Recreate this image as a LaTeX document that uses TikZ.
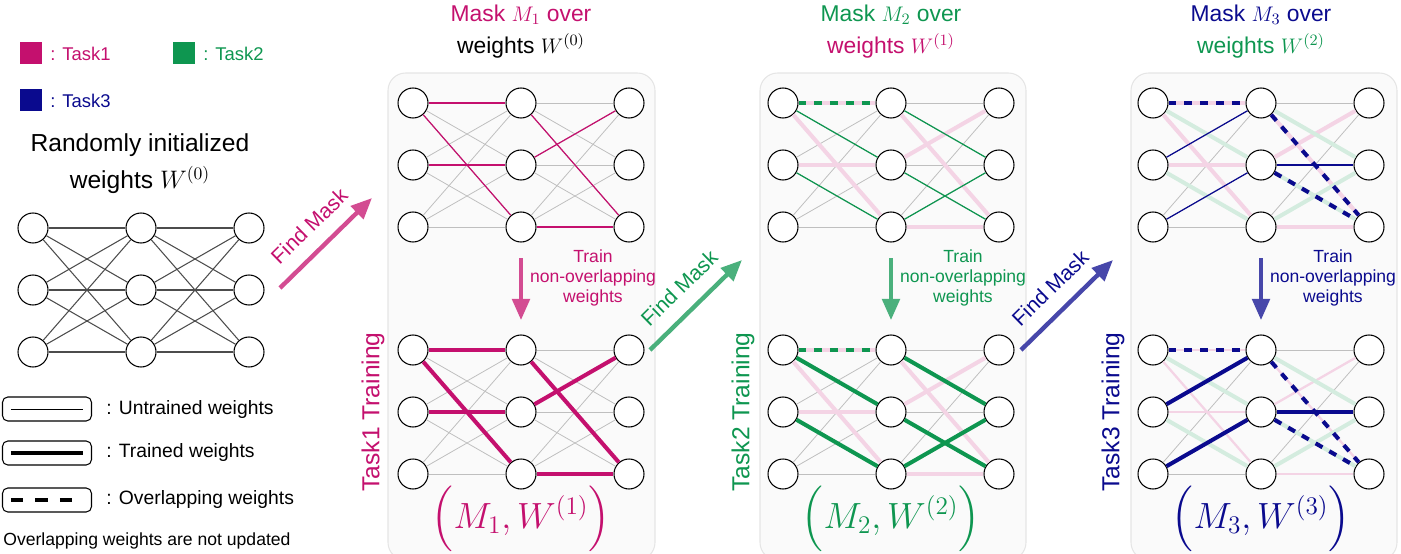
\documentclass[tikz,border=0pt]{standalone}
\usepackage{fontspec}
\setmainfont{Liberation Sans}
\usepackage{amsmath}
\usetikzlibrary{arrows.meta}
\definecolor{taskA}{HTML}{C4106E}
\definecolor{taskB}{HTML}{0E9650}
\definecolor{taskC}{HTML}{0A0A8E}
\def\colsep{108}
\def\rowsep{62}

\begin{document}
\begin{tikzpicture}[x=0.02cm, y=-0.02cm, every node/.append style={inner sep=0pt}]
    \tikzstyle{neuron}=[circle, draw=black, fill=white, minimum size=0.6cm, line width=0.6pt]
    \tikzstyle{plain}=[draw=black!25, line width=0.45pt]
    \tikzstyle{init}=[draw=black!70, line width=0.6pt]
    \tikzstyle{thin}=[line width=0.7pt]
    \tikzstyle{thick}=[line width=2.3pt]
    \tikzstyle{faded}=[line width=2.3pt]
    \tikzstyle{overlap}=[line width=2.3pt, dash pattern=on 4.5pt off 4.5pt]
    \tikzstyle{panel}=[rounded corners=10pt, fill=black!2, draw=black!10, line width=0.6pt]
    \tikzstyle{find}=[-{Triangle[length=12pt,width=10pt]}, line width=2.5pt]
    \tikzstyle{legbox}=[draw=black, rounded corners=3pt, line width=0.6pt, minimum width=1.78cm, minimum height=0.48cm]
    \useasboundingbox (0,0) rectangle (1401,554);

    % Panels
    \draw[panel] (388,73) rectangle (655,560);
    \draw[panel] (760,73) rectangle (1026,560);
    \draw[panel] (1131,73) rectangle (1397,560);

    % Neurons of all networks
    \foreach \n/\x/\y in {L/33/228, At/413/103, Ab/413/350, Bt/783/103, Bb/783/350, Ct/1153/103, Cb/1153/350}
        \foreach \c in {0,1,2}
            \foreach \r in {0,1,2}
                \node[neuron] (\n-\c-\r) at ({\x+\colsep*\c},{\y+\rowsep*\r}) {};

    % Untrained connections
    \foreach \n in {At,Ab,Bt,Bb,Ct,Cb}
        \foreach \c/\d in {0/1,1/2}
            \foreach \i in {0,1,2}
                \foreach \j in {0,1,2}
                    \draw[plain] (\n-\c-\i) -- (\n-\d-\j);
    \foreach \c/\d in {0/1,1/2}
        \foreach \i in {0,1,2}
            \foreach \j in {0,1,2}
                \draw[init] (L-\c-\i) -- (L-\d-\j);

    % Task1 mask
    \foreach \a/\b in {0-0/1-0, 0-0/1-2, 0-1/1-1, 1-0/2-2, 1-1/2-0, 1-2/2-2} {
        \draw[thin, taskA] (At-\a) -- (At-\b);
        \draw[thick, taskA] (Ab-\a) -- (Ab-\b);
        \draw[faded, taskA!18] (Bt-\a) -- (Bt-\b);
        \draw[faded, taskA!18] (Bb-\a) -- (Bb-\b);
        \draw[faded, taskA!18] (Ct-\a) -- (Ct-\b);
        \draw[faded, taskA!18, line width=1.3pt] (Cb-\a) -- (Cb-\b);
    }
    % Task2 mask
    \foreach \a/\b in {0-0/1-1, 0-1/1-2, 1-0/2-1, 1-1/2-2, 1-2/2-1} {
        \draw[thin, taskB] (Bt-\a) -- (Bt-\b);
        \draw[thick, taskB] (Bb-\a) -- (Bb-\b);
        \draw[faded, taskB!18] (Ct-\a) -- (Ct-\b);
        \draw[faded, taskB!18] (Cb-\a) -- (Cb-\b);
    }
    \draw[overlap, taskB] (Bt-0-0) -- (Bt-1-0);
    \draw[overlap, taskB] (Bb-0-0) -- (Bb-1-0);
    % Task3 mask
    \foreach \a/\b in {0-1/1-0, 0-2/1-1, 1-1/2-1} {
        \draw[thin, taskC] (Ct-\a) -- (Ct-\b);
        \draw[thick, taskC] (Cb-\a) -- (Cb-\b);
    }
    \foreach \a/\b in {0-0/1-0, 1-0/2-2, 1-1/2-2} {
        \draw[overlap, taskC] (Ct-\a) -- (Ct-\b);
        \draw[overlap, taskC] (Cb-\a) -- (Cb-\b);
    }

    % Legend
    \node[fill=taskA, minimum size=0.44cm] (sqA) at (31,53) {};
    \node[anchor=west, text=taskA, font=\fontsize{10.5}{12}\selectfont] (labA) at (50,54) {: Task1};
    \node[fill=taskB, minimum size=0.44cm] (sqB) at (184,53) {};
    \node[anchor=west, text=taskB, font=\fontsize{10.5}{12}\selectfont] (labB) at (203,54) {: Task2};
    \node[fill=taskC, minimum size=0.44cm] (sqC) at (31,100) {};
    \node[anchor=west, text=taskC, font=\fontsize{10.5}{12}\selectfont] (labC) at (50,101) {: Task3};

    \node[font=\fontsize{14}{17}\selectfont] (rand) at (140,145) {Randomly initialized};
    \node[font=\fontsize{14}{17}\selectfont] (randw) at (140,180) {weights $W^{(0)}$};

    \node[legbox] (lgU) at (47,409) {};
    \draw[line width=0.5pt] ([xshift=5pt]lgU.west) -- ([xshift=-5pt]lgU.east);
    \node[legbox] (lgT) at (47,453) {};
    \draw[line width=2pt] ([xshift=5pt]lgT.west) -- ([xshift=-5pt]lgT.east);
    \node[legbox] (lgO) at (47,500) {};
    \draw[line width=2pt, dash pattern=on 7pt off 7pt] ([xshift=5pt]lgO.west) -- ([xshift=-5pt]lgO.east);
    \node[anchor=west, font=\fontsize{11}{13}\selectfont] (txU) at (106,410) {: Untrained weights};
    \node[anchor=west, font=\fontsize{11}{13}\selectfont] (txT) at (106,453) {: Trained weights};
    \node[anchor=west, font=\fontsize{11}{13}\selectfont] (txO) at (106,500) {: Overlapping weights};
    \node[anchor=west, font=\fontsize{10}{12}\selectfont] (note) at (3,541) {Overlapping weights are not updated};

    % Panel titles
    \node[text=taskA, font=\fontsize{13}{16}\selectfont] (tA1) at (521,15) {Mask $M_1$ over};
    \node[font=\fontsize{13}{16}\selectfont] (tA2) at (521,46) {weights $W^{(0)}$};
    \node[text=taskB, font=\fontsize{13}{16}\selectfont] (tB1) at (891,15) {Mask $M_2$ over};
    \node[text=taskA, font=\fontsize{13}{16}\selectfont] (tB2) at (891,46) {weights $W^{(1)}$};
    \node[text=taskC, font=\fontsize{13}{16}\selectfont] (tC1) at (1261,15) {Mask $M_3$ over};
    \node[text=taskB, font=\fontsize{13}{16}\selectfont] (tC2) at (1261,46) {weights $W^{(2)}$};

    % Find mask arrows
    \coordinate (fA0) at (280,288); \coordinate (fA1) at (372,198);
    \coordinate (fB0) at (650,350); \coordinate (fB1) at (742,260);
    \coordinate (fC0) at (1021,350); \coordinate (fC1) at (1113,260);
    \draw[find, taskA!75] (fA0) -- (fA1) node[midway, above=8pt, sloped, text=taskA, font=\fontsize{12}{14}\selectfont] {Find Mask};
    \draw[find, taskB!75] (fB0) -- (fB1) node[midway, above=8pt, sloped, text=taskB, font=\fontsize{12}{14}\selectfont] {Find Mask};
    \draw[find, taskC!75] (fC0) -- (fC1) node[midway, above=8pt, sloped, text=taskC, font=\fontsize{12}{14}\selectfont] {Find Mask};

    % Train arrows
    \foreach \x/\col in {521/taskA, 891/taskB, 1261/taskC} {
        \coordinate (tr0-\col) at (\x,258);
        \coordinate (tr1-\col) at (\x,320);
        \draw[find, \col!75, line width=2pt] (tr0-\col) -- (tr1-\col);
        \node[text=\col, align=center, font=\fontsize{10}{11.5}\selectfont] at (\x+72,278) {Train\\non-overlapping\\weights};
    }

    % Training labels
    \node[rotate=90, text=taskA, font=\fontsize{14}{17}\selectfont] (trA) at (373,412) {Task1 Training};
    \node[rotate=90, text=taskB, font=\fontsize{14}{17}\selectfont] (trB) at (743,412) {Task2 Training};
    \node[rotate=90, text=taskC, font=\fontsize{14}{17}\selectfont] (trC) at (1113,412) {Task3 Training};
    \node[text=taskA, font=\fontsize{20}{24}\selectfont] (resA) at (521,519) {$\Bigl(M_1, W^{(1)}\Bigr)$};
    \node[text=taskB, font=\fontsize{20}{24}\selectfont] (resB) at (891,519) {$\Bigl(M_2, W^{(2)}\Bigr)$};
    \node[text=taskC, font=\fontsize{20}{24}\selectfont] (resC) at (1261,519) {$\Bigl(M_3, W^{(3)}\Bigr)$};
\end{tikzpicture}
\end{document}
